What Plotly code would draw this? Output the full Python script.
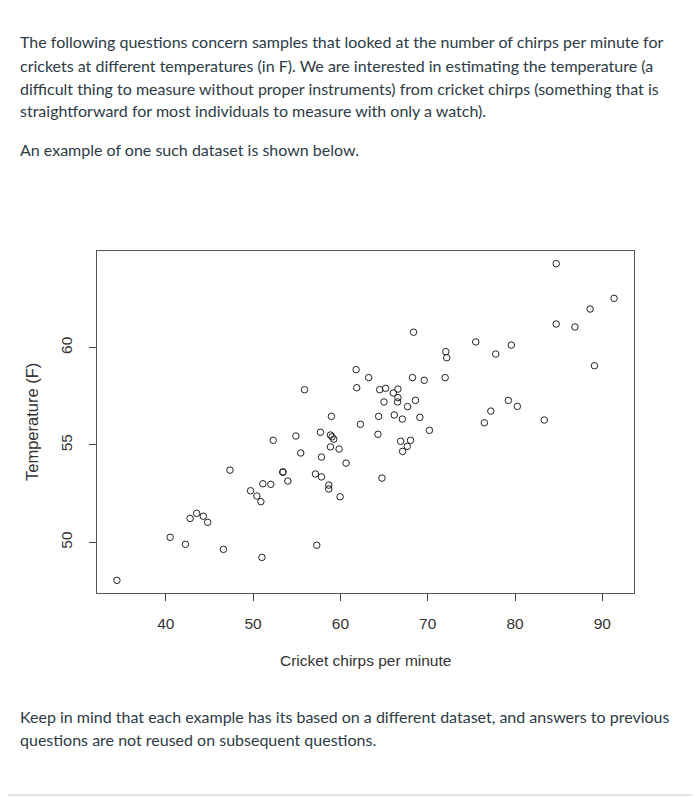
import plotly.graph_objects as go

# Data
chirps = [34.4, 40.5, 42.25, 42.78, 43.54, 44.3, 44.8, 46.6, 47.35, 49.71,
          50.43, 50.89, 51.12, 52.03, 51.01, 52.3, 54.9, 57.71, 58.86, 59.05,
          59.24, 58.86, 59.85, 55.46, 57.83, 60.65, 53.4, 53.42, 53.98, 57.14,
          57.83, 58.67, 58.67, 59.97, 64.76, 57.29, 62.29, 64.3, 66.9, 68.03,
          67.66, 67.12, 70.2, 68.38, 72.07, 72.18, 61.8, 63.24, 55.89, 61.87,
          68.26, 69.6, 72.0, 64.5, 65.18, 66.06, 66.59, 66.59, 66.55, 64.99,
          67.69, 68.6, 58.97, 64.38, 66.17, 67.09, 69.1, 84.72, 91.35, 88.6,
          84.72, 86.86, 75.5, 79.58, 77.79, 89.1, 79.24, 80.27, 77.23, 76.49,
          83.35]
temperature = [48.05, 50.26, 49.9, 51.23, 51.49, 51.34, 51.03, 49.64, 53.71, 52.65,
               52.38, 52.09, 53.01, 52.98, 49.23, 55.24, 55.46, 55.65, 55.51, 55.42,
               55.3, 54.9, 54.79, 54.59, 54.38, 54.07, 53.6, 53.62, 53.15, 53.51,
               53.36, 52.94, 52.74, 52.34, 53.3, 49.85, 56.06, 55.55, 55.19, 55.24,
               54.93, 54.67, 55.75, 60.79, 59.79, 59.48, 58.87, 58.46, 57.84, 57.94,
               58.46, 58.32, 58.46, 57.84, 57.91, 57.67, 57.87, 57.43, 57.21, 57.21,
               56.97, 57.29, 56.47, 56.47, 56.54, 56.33, 56.42, 64.31, 62.53, 61.98,
               61.21, 61.06, 60.29, 60.13, 59.67, 59.07, 57.29, 56.98, 56.74, 56.14,
               56.28]
x_ticks = [40, 50, 60, 70, 80, 90]
y_ticks = [50, 55, 60]

intro_lines = [
    "The following questions concern samples that looked at the number of chirps per minute for",
    "crickets at different temperatures (in F). We are interested in estimating the temperature (a",
    "difficult thing to measure without proper instruments) from cricket chirps (something that is",
    "straightforward for most individuals to measure with only a watch).",
]
example_line = "An example of one such dataset is shown below."
outro_lines = [
    "Keep in mind that each example has its based on a different dataset, and answers to previous",
    "questions are not reused on subsequent questions.",
]

OFF = 8  # page body margin in the browser
W, H = 700 - OFF, 798 - OFF
L, R, T, B = 97 - OFF, 634 - OFF, 251 - OFF, 593 - OFF  # plot area in figure pixels


def px(xp):
    return (xp - OFF - L) / (R - L)


def py(yp):
    return (B - (yp - OFF)) / (B - T)


fig = go.Figure()
fig.add_trace(go.Scatter(
    x=chirps, y=temperature, mode="markers",
    marker=dict(symbol="circle-open", size=6.5, color="#222222",
                line=dict(width=1, color="#222222")),
    hoverinfo="x+y", showlegend=False,
))

axis_font = dict(family="Liberation Sans, Arial, sans-serif", size=15.5, color="#333333")
fig.update_xaxes(range=[32.12, 93.63], tickvals=x_ticks, ticks="outside", ticklen=7,
                 tickcolor="#444444", showline=True, linecolor="#555555", mirror=True,
                 showgrid=False, zeroline=False, tickfont=axis_font,
                 ticklabelstandoff=9)
fig.update_yaxes(range=[47.4, 64.96], tickvals=y_ticks, ticks="outside", ticklen=7,
                 tickcolor="#444444", showline=True, linecolor="#555555", mirror=True,
                 showgrid=False, zeroline=False, tickfont=axis_font, tickangle=-90,
                 ticklabelstandoff=11)

text_font = dict(family="Lato, sans-serif", size=16, color="#2D3B45")
ann = []
for i, line in enumerate(intro_lines):
    ann.append(dict(text=line, x=px(18), y=py(42 + 23 * i), xref="paper", yref="paper",
                    xanchor="left", yanchor="middle", showarrow=False, font=text_font))
ann.append(dict(text=example_line, x=px(18), y=py(149), xref="paper", yref="paper",
                xanchor="left", yanchor="middle", showarrow=False, font=text_font))
for i, line in enumerate(outro_lines):
    ann.append(dict(text=line, x=px(18), y=py(716 + 23 * i), xref="paper", yref="paper",
                    xanchor="left", yanchor="middle", showarrow=False, font=text_font))
ann.append(dict(text="Cricket chirps per minute", x=0.5, y=py(660), xref="paper", yref="paper",
                xanchor="center", yanchor="middle", showarrow=False, font=axis_font))
ann.append(dict(text="Temperature (F)", x=px(32), y=0.5, xref="paper", yref="paper",
                xanchor="center", yanchor="middle", showarrow=False,
                font=dict(axis_font, size=16.5), textangle=-90))

shapes = [
    dict(type="line", xref="paper", yref="paper", x0=px(695), x1=px(695), y0=py(0), y1=py(795),
         line=dict(color="#C7CDD1", width=1)),
    dict(type="line", xref="paper", yref="paper", x0=px(0), x1=px(695), y0=py(795), y1=py(795),
         line=dict(color="#C7CDD1", width=1)),
]

fig.update_layout(
    width=W, height=H, autosize=False,
    margin=dict(l=L, r=W - R, t=T, b=H - B),
    paper_bgcolor="white", plot_bgcolor="white",
    annotations=ann, shapes=shapes,
)

fig.write_html("out.html")
